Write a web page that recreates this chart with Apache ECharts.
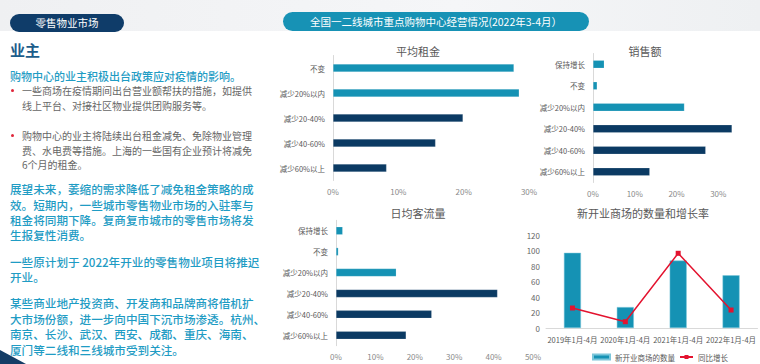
<!DOCTYPE html>
<html>
<head>
<meta charset="utf-8">
<script src="https://cdn.jsdelivr.net/npm/echarts@6/dist/echarts.min.js"></script>
<style>
  html,body{margin:0;padding:0;width:760px;height:364px;overflow:hidden;background:#fff;font-family:"Noto Sans CJK SC","Noto Sans",sans-serif;}
  #bgtop{position:absolute;left:0;top:0;width:760px;height:31px;background:linear-gradient(90deg,#eff0f2,#f5f6f8 60%,#eef0f2);}
  .pill{position:absolute;color:#fff;text-align:center;border-radius:10px;white-space:nowrap;}
  .ln{position:absolute;white-space:nowrap;line-height:14px;height:14px;}
  .t{color:#1f9cc4;font-weight:500;font-size:11.6px;}
  .g{color:#666;font-size:10px;}
  .dot{position:absolute;width:3px;height:3px;border-radius:50%;background:#e0263a;}
  #chart{position:absolute;left:0;top:0;width:760px;height:364px;}
  #tri{position:absolute;left:0;top:350px;width:26px;height:14px;background:#143d66;clip-path:polygon(0 0,100% 100%,0 100%);}
</style>
</head>
<body>
<div id="bgtop"></div>
<div id="tri"></div>
<div class="pill" style="left:10px;top:14px;width:114px;height:18px;line-height:18px;font-size:10.5px;background:#0f3c69;">零售物业市场</div>
<div class="pill" style="left:283px;top:12px;width:306px;height:19px;line-height:19px;font-size:10.5px;background:#1792b5;">全国一二线城市重点购物中心经营情况(2022年3-4月）</div>
<div class="ln" style="left:10px;top:40px;height:20px;line-height:20px;font-size:15px;font-weight:bold;color:#1c5d8b;">业主</div>
<div class="ln t" style="left:10px;top:69px;font-size:11px;">购物中心的业主积极出台政策应对疫情的影响。</div>
<div class="dot" style="left:11px;top:89px;"></div>
<div class="ln g" style="left:22px;top:84px;">一些商场在疫情期间出台营业额帮扶的措施，如提供</div>
<div class="ln g" style="left:22px;top:99px;">线上平台、对接社区物业提供团购服务等。</div>
<div class="dot" style="left:11px;top:134px;"></div>
<div class="ln g" style="left:22px;top:129px;">购物中心的业主将陆续出台租金减免、免除物业管理</div>
<div class="ln g" style="left:22px;top:144px;">费、水电费等措施。上海的一些国有企业预计将减免</div>
<div class="ln g" style="left:22px;top:158px;">6个月的租金。</div>
<div class="ln t" style="left:10px;top:182px;">展望未来，萎缩的需求降低了减免租金策略的成</div>
<div class="ln t" style="left:10px;top:197.5px;">效。短期内，一些城市零售物业市场的入驻率与</div>
<div class="ln t" style="left:10px;top:213px;">租金将同期下降。复商复市城市的零售市场将发</div>
<div class="ln t" style="left:10px;top:228px;">生报复性消费。</div>
<div class="ln t" style="left:10px;top:255px;">一些原计划于 2022年开业的零售物业项目将推迟</div>
<div class="ln t" style="left:10px;top:270px;">开业。</div>
<div class="ln t" style="left:10px;top:296px;">某些商业地产投资商、开发商和品牌商将借机扩</div>
<div class="ln t" style="left:10px;top:311.5px;">大市场份额，进一步向中国下沉市场渗透。杭州、</div>
<div class="ln t" style="left:10px;top:327px;">南京、长沙、武汉、西安、成都、重庆、海南、</div>
<div class="ln t" style="left:10px;top:342.5px;">厦门等二线和三线城市受到关注。</div>
<div id="chart"></div>
<script>
// ---- data ----
const rentCats = ['不变', '减少20%以内', '减少20-40%', '减少40-60%', '减少60%以上'];
const rentVals = [27.7, 28.5, 19.9, 15.7, 8.2];
const salesCats = ['保持增长', '不变', '减少20%以内', '减少20-40%', '减少40-60%', '减少60%以上'];
const salesVals = [2.7, 1.0, 21.9, 33.3, 27.0, 13.6];
const trafficCats = ['保持增长', '不变', '减少20%以内', '减少20-40%', '减少40-60%', '减少60%以上'];
const trafficVals = [1.7, 0.6, 15.3, 41.0, 24.3, 17.8];
const periods = ['2019年1月-4月', '2020年1月-4月', '2021年1月-4月', '2022年1月-4月'];
const newMallCount = [97, 27, 87, 68];
const growthVals = [25.8, 8.1, 96.4, 23.2];
const chartTitles = ['平均租金', '销售额', '日均客流量', '新开业商场的数量和增长率'];
const tealCats = ['保持增长', '不变', '减少20%以内'];

// ---- styles ----
const TEAL = '#1592b4', NAVY = '#0b3a63', RED = '#e3132f';
const catFont = {fontSize: 7.5, color: '#595959', fontFamily: 'Noto Sans CJK SC'};
const valFont = {fontSize: 8, color: '#8a8a8a', fontFamily: 'Noto Sans CJK SC'};

const chart = echarts.init(document.getElementById('chart'), null, {renderer: 'svg'});

function hGrid(left, right, top, height) {
  return {left: left, right: right, top: top, height: height, containLabel: false};
}
function xVal(gi, max) {
  return {type: 'value', gridIndex: gi, min: 0, max: max, interval: 10,
    axisLine: {show: false}, axisTick: {show: false}, splitLine: {show: false},
    axisLabel: Object.assign({formatter: '{value}%', margin: 7, showMaxLabel: max !== 40}, valFont)};
}
function yCat(gi, cats) {
  return {type: 'category', gridIndex: gi, data: cats, inverse: true,
    axisLine: {show: true, lineStyle: {color: '#d9d9d9', width: 1}}, axisTick: {show: false},
    axisLabel: Object.assign({margin: 8}, catFont)};
}
function hBar(gi, cats, vals) {
  return {type: 'bar', xAxisIndex: gi, yAxisIndex: gi, barWidth: 8,
    data: vals.map((v, i) => ({value: v, itemStyle: {color: tealCats.includes(cats[i]) ? TEAL : NAVY}})),
    itemStyle: {borderColor: 'rgba(255,255,255,0.35)', borderWidth: 0.5}};
}
const titleText = (t, x, y) => ({type: 'text', x: x, y: y,
  style: {text: t, align: 'center', verticalAlign: 'middle', fontSize: 11, fill: '#595959', fontFamily: 'Noto Sans CJK SC'}});
const legendText = {fontSize: 7.5, color: '#595959', fontFamily: 'Noto Sans CJK SC', lineHeight: 10};

chart.setOption({
  animation: false,
  graphic: [
    titleText(chartTitles[0], 418, 51),
    titleText(chartTitles[1], 645, 51),
    titleText(chartTitles[2], 418, 213),
    titleText(chartTitles[3], 643, 213)
  ],
  grid: [
    hGrid(333, 231, 55.5, 125),
    hGrid(593, -13, 53.5, 129),
    hGrid(336, 227, 220.3, 125.4),
    {left: 546, right: 2.5, top: 235, height: 93}
  ],
  xAxis: [
    xVal(0, 30), xVal(1, 40), xVal(2, 50),
    {type: 'category', gridIndex: 3, data: periods,
      axisLine: {lineStyle: {color: '#d9d9d9'}}, axisTick: {show: false},
      axisLabel: Object.assign({margin: 8, interval: 0}, catFont)}
  ],
  yAxis: [
    yCat(0, rentCats), yCat(1, salesCats), yCat(2, trafficCats),
    {type: 'value', gridIndex: 3, min: 0, max: 120, interval: 20,
      axisLine: {show: false}, axisTick: {show: false}, splitLine: {show: false},
      axisLabel: Object.assign({margin: 6}, valFont, {color: '#666'})}
  ],
  legend: [
    {left: 592, top: 352, padding: 0, itemWidth: 17, itemHeight: 5, textStyle: legendText,
      data: [{name: '新开业商场的数量', icon: 'rect'}]},
    {left: 679, top: 352, padding: 0, itemWidth: 13, itemHeight: 5, textStyle: legendText,
      data: [{name: '同比增长'}]}
  ],
  series: [
    hBar(0, rentCats, rentVals),
    hBar(1, salesCats, salesVals),
    hBar(2, trafficCats, trafficVals),
    {name: '新开业商场的数量', type: 'bar', xAxisIndex: 3, yAxisIndex: 3, barWidth: 17,
      data: newMallCount, itemStyle: {color: TEAL, borderColor: '#7cc6da', borderWidth: 0.5}},
    {name: '同比增长', type: 'line', xAxisIndex: 3, yAxisIndex: 3, data: growthVals,
      symbol: 'rect', symbolSize: 5, lineStyle: {color: RED, width: 1.5}, itemStyle: {color: RED}}
  ]
});
</script>
</body>
</html>
